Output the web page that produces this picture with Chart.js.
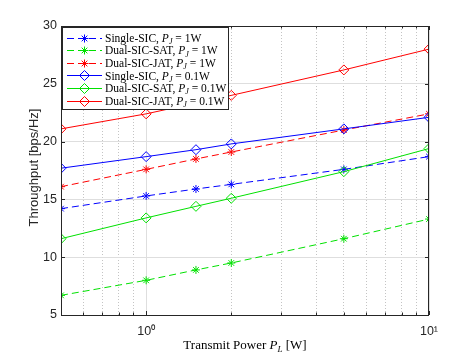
<!DOCTYPE html>
<html>
<head>
<meta charset="utf-8">
<script src="https://cdn.jsdelivr.net/npm/chart.js@4/dist/chart.umd.min.js"></script>
<style>
html,body{margin:0;padding:0;background:#fff;}
#wrap{width:474px;height:355px;position:relative;}
</style>
</head>
<body>
<div id="wrap"><canvas id="c" width="474" height="355"></canvas></div>
<script>
// ---- data ----
const powers = [0.5, 1, 1.5, 2, 5, 10];
const singleSic1W   = [14.2, 15.3, 15.9, 16.3, 17.6, 18.7];
const dualSat1W     = [6.7, 8.0, 8.9, 9.5, 11.6, 13.3];
const dualJat1W     = [16.1, 17.6, 18.5, 19.1, 21.0, 22.4];
const singleSic01W  = [17.7, 18.7, 19.3, 19.8, 21.1, 22.1];
const dualSat01W    = [11.6, 13.4, 14.4, 15.1, 17.4, 19.4];
const dualJat01W    = [21.1, 22.4, null, 24.0, 26.2, 28.0];
const seriesNames = ['Single-SIC', 'Dual-SIC-SAT', 'Dual-SIC-JAT', 'Single-SIC', 'Dual-SIC-SAT', 'Dual-SIC-JAT'];
const seriesPower = ['1W', '1W', '1W', '0.1W', '0.1W', '0.1W'];
const yTicks = [5, 10, 15, 20, 25, 30];
const xMajorTicks = [1, 10];
const xMajorLabels = ['10\u2070', '10\u00B9'];
const xMinorTicks = [0.6, 0.7, 0.8, 0.9, 2, 3, 4, 5, 6, 7, 8, 9];

const BLUE = 'rgb(0,0,255)', GREEN = 'rgb(0,225,0)', RED = 'rgb(255,0,0)';
const colors = [BLUE, GREEN, RED, BLUE, GREEN, RED];
const allValues = [singleSic1W, dualSat1W, dualJat1W, singleSic01W, dualSat01W, dualJat01W];
const DASH = [7, 4];
const AXIS = '#262626';
const SANS = '"Liberation Sans", Arial, sans-serif';
const SERIF = '"Liberation Serif", "Times New Roman", serif';

const datasets = allValues.map((vals, i) => {
  const is1W = i < 3;
  return {
    label: seriesNames[i] + ', P_J = ' + seriesPower[i],
    data: powers.map((p, k) => ({x: p, y: vals[k]})),
    borderColor: colors[i],
    backgroundColor: 'rgba(0,0,0,0)',
    borderWidth: 1,
    borderDash: is1W ? DASH : [],
    pointStyle: is1W ? 'star' : 'rectRot',
    pointRadius: is1W ? 4 : 5,
    pointBorderWidth: 1,
    pointBorderColor: colors[i],
    pointBackgroundColor: 'rgba(0,0,0,0)',
    spanGaps: true,
    tension: 0,
    order: 5 - i
  };
});

function drawRich(ctx, x, y, parts) {
  let cx = x;
  for (const p of parts) {
    ctx.font = p.font;
    ctx.fillText(p.t, cx, y + (p.dy || 0));
    cx += ctx.measureText(p.t).width;
  }
  return cx;
}

const decor = {
  id: 'decor',
  afterDraw(chart) {
    const ctx = chart.ctx;
    const a = chart.chartArea;
    const xs = chart.scales.x, ys = chart.scales.y;
    ctx.save();
    // frame
    ctx.strokeStyle = AXIS;
    ctx.lineWidth = 1;
    ctx.setLineDash([]);
    ctx.strokeRect(Math.round(a.left) + 0.5, Math.round(a.top) + 0.5,
                   Math.round(a.right - a.left) - 1, Math.round(a.bottom - a.top));
    ctx.beginPath();
    // inward ticks
    yTicks.forEach(v => {
      const py = Math.round(ys.getPixelForValue(v)) + 0.5;
      ctx.moveTo(a.left, py); ctx.lineTo(a.left + 4, py);
      ctx.moveTo(a.right, py); ctx.lineTo(a.right - 4, py);
    });
    xMajorTicks.forEach(v => {
      const px = Math.round(xs.getPixelForValue(v)) + 0.5;
      ctx.moveTo(px, a.bottom); ctx.lineTo(px, a.bottom - 4);
      ctx.moveTo(px, a.top); ctx.lineTo(px, a.top + 4);
    });
    xMinorTicks.forEach(v => {
      const px = Math.round(xs.getPixelForValue(v)) + 0.5;
      ctx.moveTo(px, a.bottom); ctx.lineTo(px, a.bottom - 2.5);
      ctx.moveTo(px, a.top); ctx.lineTo(px, a.top + 2.5);
    });
    ctx.stroke();

    // legend
    const lx = 62, ly = 27, lw = 166, lh = 82;
    ctx.fillStyle = '#fff';
    ctx.fillRect(lx, ly, lw, lh);
    ctx.strokeStyle = AXIS;
    ctx.strokeRect(lx + 0.5, ly + 0.5, lw, lh);
    for (let i = 0; i < 6; i++) {
      const cy = 37.5 + 12.6 * i;
      const is1W = i < 3;
      ctx.strokeStyle = colors[i];
      ctx.lineWidth = 1;
      ctx.setLineDash(is1W ? DASH : []);
      ctx.beginPath();
      ctx.moveTo(67, Math.round(cy) + 0.5); ctx.lineTo(102, Math.round(cy) + 0.5);
      ctx.stroke();
      ctx.setLineDash([]);
      ctx.fillStyle = 'rgba(0,0,0,0)';
      ctx.strokeStyle = colors[i];
      Chart.helpers.drawPoint(ctx, {
        pointStyle: is1W ? 'star' : 'rectRot',
        radius: is1W ? 4 : 5,
        rotation: 0,
        borderWidth: 1
      }, 84.5, Math.round(cy) + 0.5);
      ctx.fillStyle = '#000';
      ctx.textBaseline = 'alphabetic';
      ctx.textAlign = 'left';
      drawRich(ctx, 105, cy + 4.2, [
        {t: seriesNames[i] + ', ', font: '11.5px ' + SERIF},
        {t: 'P', font: 'italic 11.5px ' + SERIF},
        {t: 'J', font: 'italic 8px ' + SERIF, dy: 2.2},
        {t: ' = ' + seriesPower[i], font: '11.5px ' + SERIF}
      ]);
    }

    // x title
    ctx.fillStyle = '#000';
    const parts = [
      {t: 'Transmit Power ', font: '13px ' + SERIF},
      {t: 'P', font: 'italic 13px ' + SERIF},
      {t: 'L', font: 'italic 9px ' + SERIF, dy: 2.5},
      {t: ' [W]', font: '13px ' + SERIF}
    ];
    let w = 0;
    parts.forEach(p => { ctx.font = p.font; w += ctx.measureText(p.t).width; });
    drawRich(ctx, (a.left + a.right) / 2 - w / 2, 349, parts);

    // y title
    ctx.translate(34, 167.5);
    ctx.rotate(-Math.PI / 2);
    ctx.textAlign = 'center';
    ctx.textBaseline = 'middle';
    ctx.fillStyle = AXIS;
    ctx.font = '13px ' + SANS;
    ctx.fillText('Throughput [bps/Hz]', 0, 0);
    ctx.restore();
  }
};

new Chart(document.getElementById('c'), {
  type: 'line',
  data: { datasets },
  options: {
    responsive: false,
    animation: false,
    devicePixelRatio: 1,
    layout: { padding: { left: 0, right: 45, top: 26, bottom: 0 } },
    plugins: { legend: { display: false }, tooltip: { enabled: false } },
    scales: {
      x: {
        type: 'logarithmic',
        position: 'bottom',
        min: 0.5, max: 10,
        afterBuildTicks: s => { s.ticks = xMajorTicks.map(v => ({value: v})); },
        afterFit: s => { s.height = 40; },
        ticks: {
          autoSkip: false, maxRotation: 0, padding: 9,
          color: AXIS,
          font: { family: SANS, size: 12.5 },
          callback: (v) => { const k = xMajorTicks.indexOf(v); return k >= 0 ? xMajorLabels[k] : ''; }
        },
        grid: { color: '#dedede', lineWidth: 1, drawTicks: false },
        border: { display: false }
      },
      xMinor: {
        type: 'logarithmic',
        position: 'bottom',
        min: 0.5, max: 10,
        afterBuildTicks: s => { s.ticks = xMinorTicks.map(v => ({value: v})); },
        afterFit: s => { s.height = 0; },
        ticks: { display: false },
        grid: { color: '#c4c4c4', lineWidth: 1, drawTicks: false },
        border: { display: false, dash: [1, 2] }
      },
      y: {
        min: 5, max: 30,
        afterBuildTicks: s => { s.ticks = yTicks.map(v => ({value: v})); },
        afterFit: s => { s.width = 61; },
        ticks: {
          padding: 4, color: AXIS,
          font: { family: SANS, size: 12.5 }
        },
        grid: { color: '#dedede', lineWidth: 1, drawTicks: false },
        border: { display: false }
      }
    }
  },
  plugins: [decor]
});
</script>
</body>
</html>
